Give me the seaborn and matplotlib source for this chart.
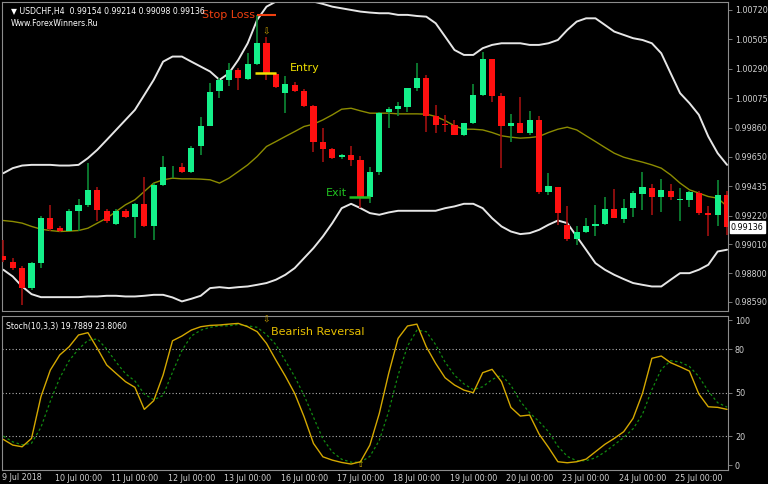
"""USDCHF H4 chart with Bollinger bands and stochastic oscillator."""

import matplotlib
matplotlib.use("Agg")
import matplotlib.pyplot as plt
import numpy as np
import pandas as pd
import seaborn as sns

OPEN = [0.98922, 0.98885, 0.98837, 0.98691, 0.98873, 0.99201, 0.99126, 0.99111, 0.99257, 0.99294,
        0.99408, 0.99257, 0.99160, 0.99252, 0.99209, 0.99304, 0.99141, 0.99444, 0.99573, 0.99578,
        0.99541, 0.99724, 0.99874, 1.00132, 1.00210, 1.00283, 1.00217, 1.00324, 1.00477, 1.00254,
        1.00117, 1.00173, 1.00132, 1.00020, 0.99760, 0.99704, 0.99644, 0.99663, 0.99627, 0.99359,
        0.99541, 0.99979, 0.99996, 1.00015, 1.00149, 1.00222, 0.99943, 0.99889, 0.99882, 0.99809,
        0.99894, 1.00100, 1.00360, 1.00095, 0.99874, 0.99894, 0.99821, 0.99918, 0.99391, 0.99432,
        0.99150, 0.99048, 0.99102, 0.99141, 0.99158, 0.99267, 0.99194, 0.99274, 0.99379, 0.99420,
        0.99352, 0.99401, 0.99335, 0.99335, 0.99384, 0.99238, 0.99226, 0.99371]
HIGH = [0.99043, 0.98910, 0.98849, 0.98885, 0.99214, 0.99299, 0.99141, 0.99267, 0.99342, 0.99602,
        0.99432, 0.99267, 0.99267, 0.99267, 0.99311, 0.99505, 0.99457, 0.99651, 0.99583, 0.99602,
        0.99724, 0.99942, 1.00185, 1.00222, 1.00331, 1.00295, 1.00404, 1.00684, 1.00526, 1.00263,
        1.00239, 1.00198, 1.00142, 1.00028, 0.99857, 0.99712, 0.99670, 0.99729, 0.99651, 0.99578,
        0.99979, 1.00015, 1.00045, 1.00149, 1.00336, 1.00246, 1.00028, 0.99955, 0.99918, 0.99899,
        1.00181, 1.00416, 1.00360, 1.00113, 0.99960, 1.00088, 0.99984, 0.99943, 0.99534, 0.99432,
        0.99287, 0.99141, 0.99201, 0.99294, 0.99359, 0.99413, 0.99342, 0.99396, 0.99537, 0.99449,
        0.99486, 0.99449, 0.99420, 0.99396, 0.99396, 0.99287, 0.99481, 0.99396]
LOW = [0.98885, 0.98825, 0.98570, 0.98679, 0.98837, 0.99111, 0.99097, 0.99104, 0.99111, 0.99282,
       0.99177, 0.99165, 0.99153, 0.99201, 0.99056, 0.99136, 0.99043, 0.99437, 0.99493, 0.99534,
       0.99529, 0.99663, 0.99870, 1.00076, 1.00166, 1.00137, 1.00210, 1.00317, 1.00210, 1.00149,
       0.99967, 1.00125, 1.00015, 0.99687, 0.99614, 0.99631, 0.99631, 0.99583, 0.99274, 0.99311,
       0.99517, 0.99857, 0.99947, 0.99979, 1.00132, 0.99833, 0.99821, 0.99833, 0.99809, 0.99802,
       0.99889, 1.00093, 1.00052, 0.99566, 0.99760, 0.99821, 0.99809, 0.99379, 0.99371, 0.99153,
       0.99038, 0.99007, 0.99092, 0.99068, 0.99150, 0.99201, 0.99165, 0.99213, 0.99262, 0.99226,
       0.99243, 0.99335, 0.99177, 0.99282, 0.99226, 0.99068, 0.99141, 0.99080]
CLOSE = [0.98898, 0.98837, 0.98691, 0.98873, 0.99201, 0.99121, 0.99111, 0.99257, 0.99299, 0.99408,
         0.99262, 0.99177, 0.99257, 0.99209, 0.99304, 0.99141, 0.99444, 0.99578, 0.99578, 0.99541,
         0.99712, 0.99874, 1.00125, 1.00210, 1.00283, 1.00222, 1.00324, 1.00477, 1.00263, 1.00156,
         1.00181, 1.00132, 1.00020, 0.99760, 0.99704, 0.99639, 0.99663, 0.99627, 0.99359, 0.99541,
         0.99967, 0.99996, 1.00020, 1.00149, 1.00222, 0.99943, 0.99882, 0.99879, 0.99809, 0.99894,
         1.00100, 1.00363, 1.00095, 0.99874, 0.99894, 0.99821, 0.99918, 0.99391, 0.99437, 0.99238,
         0.99048, 0.99102, 0.99141, 0.99158, 0.99267, 0.99201, 0.99274, 0.99384, 0.99425, 0.99352,
         0.99403, 0.99352, 0.99340, 0.99389, 0.99238, 0.99226, 0.99371, 0.99136]

BB_UPPER = [0.99529, 0.99566, 0.99585, 0.99590, 0.99590, 0.99590, 0.99585, 0.99585, 0.99590, 0.99639,
            0.99700, 0.99772, 0.99845, 0.99918, 0.99991, 1.00100, 1.00210, 1.00343, 1.00380, 1.00380,
            1.00343, 1.00307, 1.00271, 1.00210, 1.00258, 1.00356, 1.00477, 1.00647, 1.00744, 1.00781,
            1.00817, 1.00842, 1.00817, 1.00781, 1.00764, 1.00744, 1.00732, 1.00720, 1.00708, 1.00701,
            1.00696, 1.00696, 1.00684, 1.00684, 1.00676, 1.00671, 1.00623, 1.00526, 1.00428, 1.00392,
            1.00392, 1.00441, 1.00465, 1.00477, 1.00477, 1.00477, 1.00465, 1.00465, 1.00477, 1.00501,
            1.00574, 1.00635, 1.00659, 1.00659, 1.00611, 1.00562, 1.00538, 1.00514, 1.00501, 1.00477,
            1.00404, 1.00258, 1.00113, 1.00040, 0.99955, 0.99797, 0.99675, 0.99590]
BB_MIDDLE = [0.99184, 0.99177, 0.99165, 0.99141, 0.99121, 0.99111, 0.99104, 0.99107, 0.99111, 0.99128,
             0.99165, 0.99201, 0.99250, 0.99299, 0.99335, 0.99396, 0.99457, 0.99481, 0.99493, 0.99488,
             0.99488, 0.99486, 0.99481, 0.99457, 0.99493, 0.99541, 0.99590, 0.99651, 0.99724, 0.99760,
             0.99797, 0.99833, 0.99870, 0.99887, 0.99918, 0.99955, 0.99996, 1.00003, 0.99984, 0.99967,
             0.99967, 0.99967, 0.99962, 0.99962, 0.99962, 0.99960, 0.99943, 0.99913, 0.99875, 0.99850,
             0.99850, 0.99845, 0.99826, 0.99802, 0.99792, 0.99785, 0.99789, 0.99797, 0.99826, 0.99850,
             0.99865, 0.99845, 0.99802, 0.99760, 0.99717, 0.99675, 0.99646, 0.99627, 0.99610, 0.99590,
             0.99566, 0.99517, 0.99457, 0.99408, 0.99384, 0.99359, 0.99347, 0.99287]
BB_LOWER = [0.98825, 0.98776, 0.98703, 0.98647, 0.98625, 0.98625, 0.98625, 0.98625, 0.98625, 0.98630,
            0.98630, 0.98635, 0.98635, 0.98630, 0.98630, 0.98635, 0.98642, 0.98642, 0.98623, 0.98594,
            0.98613, 0.98635, 0.98691, 0.98698, 0.98691, 0.98698, 0.98703, 0.98715, 0.98728, 0.98752,
            0.98788, 0.98837, 0.98910, 0.98983, 0.99068, 0.99165, 0.99274, 0.99306, 0.99274, 0.99238,
            0.99226, 0.99243, 0.99255, 0.99255, 0.99255, 0.99255, 0.99255, 0.99274, 0.99287, 0.99306,
            0.99306, 0.99274, 0.99201, 0.99141, 0.99104, 0.99085, 0.99092, 0.99116, 0.99153, 0.99184,
            0.99165, 0.99068, 0.98971, 0.98873, 0.98825, 0.98788, 0.98757, 0.98728, 0.98715, 0.98703,
            0.98703, 0.98752, 0.98800, 0.98800, 0.98825, 0.98861, 0.98958, 0.98971]

STOCH_K = [17.7, 13.8, 12.6, 18.4, 47.1, 65.5, 75.9, 81.6, 89.7, 91.3,
           80.5, 69.0, 63.2, 57.5, 53.6, 38.4, 44.4, 62.1, 85.7, 89.0,
           93.1, 95.4, 96.3, 96.6, 97.2, 97.7, 95.4, 92.0, 83.9, 72.4,
           61.4, 49.4, 33.3, 14.9, 5.7, 3.4, 1.8, 0.7, 2.3, 13.8,
           35.6, 63.2, 87.4, 95.9, 97.2, 81.6, 70.1, 60.2, 55.2, 51.7,
           49.9, 63.7, 66.0, 57.5, 39.8, 33.8, 34.5, 21.4, 12.2, 2.3,
           1.6, 2.3, 4.1, 9.2, 14.3, 18.4, 23.0, 32.2, 49.4, 73.6,
           75.2, 70.6, 67.8, 64.8, 49.0, 40.2, 39.8, 38.4]
STOCH_D = [20, 16, 14, 15, 26, 44, 60, 72, 80, 86,
           87, 80, 71, 63, 58, 49, 45, 48, 64, 79,
           89, 93, 95, 96, 96, 97, 96, 95, 90, 83,
           72, 61, 48, 33, 18, 9, 4, 2, 2, 6,
           17, 37, 62, 82, 93, 92, 83, 71, 62, 56,
           52, 54, 59, 62, 55, 44, 36, 30, 23, 13,
           6, 3, 3, 5, 9, 14, 19, 25, 35, 52,
           66, 72, 71, 68, 61, 51, 43, 40]

PRICE_TICKS = [1.00720, 1.00505, 1.00290, 1.00075, 0.99860, 0.99650,
               0.99435, 0.99220, 0.99010, 0.98800, 0.98590]
STOCH_TICKS = [100, 80, 50, 20, 0]
DATE_POS = [8, 14, 20, 26, 32, 38, 44, 50, 56, 62, 68, 74]
DATE_LABELS = ["10 Jul 00:00", "11 Jul 00:00", "12 Jul 00:00", "13 Jul 00:00",
               "16 Jul 00:00", "17 Jul 00:00", "18 Jul 00:00", "19 Jul 00:00", "20 Jul 00:00",
               "23 Jul 00:00", "24 Jul 00:00", "25 Jul 00:00"]
FIRST_DATE = "9 Jul 2018"

BULL, BEAR = "#14f08a", "#ff1010"
BULL_WICK, BEAR_WICK = "#0d8a35", "#a01010"
FRAME = "#8c8c8c"
TXT = "#d0d0d0"

sns.set_theme(style="dark")
plt.rcParams["font.family"] = ["DejaVu Sans"]

bars = pd.DataFrame({"open": OPEN, "high": HIGH, "low": LOW, "close": CLOSE})
bars["idx"] = np.arange(len(bars))
bars["up"] = bars["close"] >= bars["open"]

fig = plt.figure(figsize=(7.68, 4.84), dpi=100, facecolor="black")
ax = fig.add_axes([2 / 768, 1 - 311 / 484, 726 / 768, 309 / 484])
ax2 = fig.add_axes([2 / 768, 1 - 470 / 484, 726 / 768, 154 / 484])
XLIM = (-0.14, 77.1)

for axis in (ax, ax2):
    axis.set_facecolor("black")
    axis.grid(False)
    for spine in axis.spines.values():
        spine.set_color(FRAME)
        spine.set_linewidth(0.8)
    axis.set_xlim(*XLIM)
    axis.yaxis.tick_right()
    axis.tick_params(axis="y", colors=FRAME, labelcolor=TXT, labelsize=5.8,
                     length=3, width=0.6, pad=2, right=True, left=False)

# bands
for values, colour, width in [(BB_UPPER, "#e6e6e6", 1.4), (BB_LOWER, "#e6e6e6", 1.4),
                              (BB_MIDDLE, "#8c8c00", 1.0)]:
    sns.lineplot(x=bars["idx"], y=values, ax=ax, color=colour, linewidth=width)

# candles
for up, body_col, wick_col in [(True, BULL, BULL_WICK), (False, BEAR, BEAR_WICK)]:
    part = bars[bars["up"] == up]
    ax.vlines(part["idx"], part["low"], part["high"], color=wick_col, linewidth=1.2, zorder=3)
    bottom = part[["open", "close"]].min(axis=1)
    height = (part["close"] - part["open"]).abs().clip(lower=0.00004)
    ax.bar(part["idx"], height, bottom=bottom, width=0.66, color=body_col, linewidth=0, zorder=4)

ax.set_ylim(0.98524, 1.00778)
ax.set_yticks(PRICE_TICKS)
ax.set_yticklabels([f"{t:.5f}" for t in PRICE_TICKS])
ax.set_xticks([])

# trade annotations
ax.hlines(HIGH[27], 27, 29, color="#f04010", linewidth=1.5, zorder=5)
ax.text(26.8, HIGH[27], "Stop Loss", color="#f04010", fontsize=8, va="center", ha="right")
ax.hlines(CLOSE[28], 26.8, 29, color="#f0e000", linewidth=1.8, zorder=5)
ax.text(30.5, CLOSE[28] + 0.0003, "Entry", color="#f0e000", fontsize=8, va="center")
ax.hlines(CLOSE[38], 36.8, 39, color="#20c020", linewidth=1.8, zorder=5)
ax.text(36.6, CLOSE[38] + 0.00025, "Exit", color="#20c020", fontsize=8, va="center", ha="right")
ax.text(28, HIGH[28] + 0.0003, "⇩", color="#c8a000", fontsize=6.5, ha="center", va="center")

ax.text(0.012, 0.985, "▼ USDCHF,H4  0.99154 0.99214 0.99098 0.99136", transform=ax.transAxes,
        color="white", fontsize=5.6, va="top")
ax.text(0.012, 0.945, "Www.ForexWinners.Ru", transform=ax.transAxes,
        color="white", fontsize=5.6, va="top")
ax.text(1.004, CLOSE[-1], "0.99136", transform=ax.get_yaxis_transform(), color="black",
        fontsize=5.8, va="center", ha="left",
        bbox=dict(boxstyle="square,pad=0.15", fc="white", ec="white"), clip_on=False)

# stochastic
for level in (20, 50, 80):
    ax2.axhline(level, color="#b0b0b0", linestyle=(0, (1, 2)), linewidth=0.8)
sns.lineplot(x=bars["idx"], y=STOCH_D, ax=ax2, color="#118a11", linewidth=0.9,
             linestyle=(0, (2, 2)))
sns.lineplot(x=bars["idx"], y=STOCH_K, ax=ax2, color="#d4a800", linewidth=1.0)
ax2.set_ylim(-3.4, 102.8)
ax2.set_yticks(STOCH_TICKS)
ax2.set_yticklabels([str(t) for t in STOCH_TICKS])
ax2.set_xticks(DATE_POS)
ax2.set_xticklabels(DATE_LABELS)
ax2.tick_params(axis="x", colors=FRAME, labelcolor=TXT, labelsize=5.8, length=2, pad=1)
ax2.text(0.0, -0.02, FIRST_DATE, transform=ax2.transAxes, color=TXT, fontsize=5.8,
         ha="left", va="top")
ax2.text(0.006, 0.96, "Stoch(10,3,3) 19.7889 23.8060", transform=ax2.transAxes,
         color="white", fontsize=5.6, va="top")
ax2.text(28, 100, "⇩", color="#c8a000", fontsize=6.5, ha="center", va="center")
ax2.text(38, 0.3, "⇧", color="#c8a000", fontsize=6.5, ha="center", va="center")
ax2.text(28.5, 92, "Bearish Reversal", color="#e8c000", fontsize=8, va="center")

for axis in (ax, ax2):
    axis.set_xlabel("")
    axis.set_ylabel("")

fig.savefig("out.png", dpi=100, facecolor="black")
